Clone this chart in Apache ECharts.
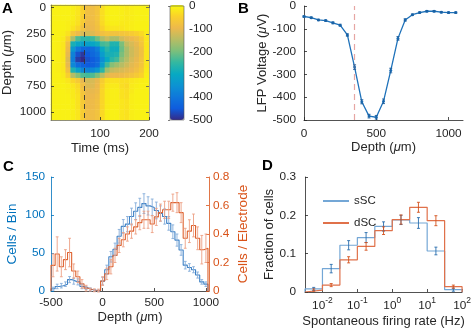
<!DOCTYPE html>
<html><head><meta charset="utf-8">
<script src="https://cdn.jsdelivr.net/npm/echarts@6/dist/echarts.min.js"></script>
<style>html,body{margin:0;padding:0;background:#fff}#c{width:474px;height:333px}</style>
</head><body><div id="c"></div>
<script>
// ---------- Panel A: LFP heatmap (time x depth) ----------
const timeCenters = [5,15,25,35,45,55,65,75,85,95,105,115,125,135,145,155,165,175,185,195];
const depthRows = [0,50,100,150,200,250,300,350,400,450,500,550,600,650,700,750,800,850,900,950,1000,1050];
const lfpGrid = [
 [-12,-12,-12,-12,-15,-25,-50,-85,-90,-75,-35,-15,-12,-12,-15,-20,-15,-12,-12,-12],
 [-12,-12,-12,-12,-15,-25,-50,-85,-90,-75,-35,-15,-12,-12,-15,-20,-15,-12,-12,-12],
 [-12,-12,-12,-12,-15,-28,-55,-90,-90,-75,-35,-15,-12,-12,-15,-20,-15,-12,-12,-12],
 [-12,-12,-12,-15,-20,-32,-62,-95,-95,-80,-40,-20,-15,-15,-20,-20,-15,-12,-12,-12],
 [-12,-12,-12,-15,-28,-45,-80,-105,-100,-85,-50,-30,-25,-25,-25,-20,-15,-12,-12,-12],
 [-12,-12,-15,-30,-75,-95,-120,-125,-115,-100,-85,-75,-80,-80,-75,-70,-62,-52,-40,-20],
 [-12,-12,-20,-55,-160,-230,-260,-260,-245,-210,-160,-135,-160,-160,-125,-110,-100,-88,-65,-25],
 [-12,-15,-25,-85,-280,-310,-320,-320,-310,-290,-240,-230,-270,-270,-200,-140,-120,-105,-75,-25],
 [-12,-15,-25,-95,-340,-400,-430,-430,-420,-390,-300,-260,-290,-290,-210,-160,-130,-112,-85,-25],
 [-12,-15,-25,-105,-380,-460,-485,-450,-430,-410,-330,-280,-280,-270,-200,-160,-130,-112,-85,-25],
 [-12,-15,-25,-115,-390,-480,-500,-460,-450,-430,-360,-300,-260,-240,-180,-150,-120,-105,-80,-25],
 [-12,-15,-25,-105,-370,-420,-440,-450,-440,-420,-330,-240,-190,-170,-150,-130,-110,-95,-75,-25],
 [-12,-15,-25,-85,-270,-320,-370,-380,-370,-340,-260,-170,-140,-130,-120,-110,-100,-85,-65,-20],
 [-12,-12,-20,-55,-150,-190,-230,-240,-230,-200,-150,-110,-100,-100,-95,-88,-78,-65,-50,-15],
 [-12,-12,-15,-25,-45,-65,-105,-125,-120,-105,-60,-35,-30,-30,-35,-35,-25,-20,-15,-12],
 [-12,-12,-12,-15,-25,-40,-85,-115,-115,-100,-50,-25,-20,-20,-35,-40,-20,-15,-12,-12],
 [-12,-12,-12,-15,-20,-35,-75,-105,-105,-95,-45,-20,-15,-15,-30,-35,-20,-12,-12,-12],
 [-12,-12,-12,-12,-20,-30,-70,-100,-100,-90,-45,-20,-15,-15,-30,-35,-15,-12,-12,-12],
 [-12,-12,-12,-12,-15,-30,-65,-95,-95,-85,-45,-20,-15,-15,-25,-30,-15,-12,-12,-12],
 [-12,-12,-12,-12,-15,-30,-65,-95,-95,-85,-45,-20,-15,-15,-25,-30,-15,-12,-12,-12],
 [-12,-12,-12,-12,-15,-25,-60,-90,-90,-80,-40,-15,-12,-12,-25,-30,-15,-12,-12,-12],
 [-12,-12,-12,-12,-15,-25,-60,-90,-90,-80,-40,-15,-12,-12,-25,-30,-15,-12,-12,-12]
];
const stimTimeA = 68;
const timeTicksA = [100, 200];
const depthTicksA = [0, 250, 500, 750, 1000];

// ---------- Panel B: LFP voltage vs depth ----------
const depthB = [0,50,100,150,200,250,300,350,400,450,500,550,600,650,700,750,800,850,900,950,1000,1050];
const lfpB = [-46,-51,-61,-64,-74,-84,-127,-268,-420,-483,-488,-418,-283,-142,-61,-38,-29,-23,-23,-27,-29,-29];
const lfpErrB = [3,3,3,3,4,4,5,10,9,8,8,10,10,8,5,3,3,3,3,3,3,3];
const stimDepthB = 345;
const depthTicksB = [0, 500, 1000];

// ---------- Panel C: cell density vs depth ----------
const depthEdgesC = [-500,-460,-420,-380,-340,-300,-260,-220,-180,-140,-100,-60,-20,20,60,100,140,180,220,260,300,340,380,420,460,500,540,580,620,660,700,740,780,820,860,900,940,980,1020];
const cellsPerBin = [3,6,7,9,15,13,12,6,4,2,1,0.5,13,28,45,55,72,85,88,98,105,110,115,112,110,106,102,98,89,78,67,54,34,31,28,21,12,9];
const cellsPerBinErr = [2,3,3,3,4,4,4,3,2,2,1,1,5,6,7,8,9,9,10,11,11,12,13,12,11,11,10,10,9,9,8,7,5,5,4,4,3,3];
const cellsPerElectrode = [0.18,0.26,0.17,0.22,0.27,0.14,0.10,0.05,0.02,0.01,0.005,0.003,0.07,0.12,0.17,0.25,0.32,0.36,0.40,0.42,0.45,0.48,0.50,0.50,0.47,0.52,0.55,0.57,0.57,0.62,0.62,0.55,0.37,0.42,0.46,0.37,0.29,0.30];
const cellsPerElectrodeErr = [0.08,0.12,0.07,0.07,0.1,0.05,0.04,0.03,0.02,0.01,0.01,0.01,0.03,0.04,0.05,0.05,0.05,0.05,0.05,0.05,0.05,0.05,0.06,0.06,0.06,0.06,0.06,0.06,0.06,0.06,0.07,0.07,0.07,0.08,0.08,0.08,0.1,0.1];
const depthTicksC = [-500, 0, 500, 1000];

// ---------- Panel D: firing-rate distribution ----------
const rateEdgesLog10 = [-2.5,-2,-1.5,-1,-0.5,0,0.5,1,1.5,2];
const fracSSC = [0.008,0.061,0.122,0.142,0.171,0.188,0.180,0.107,0.006];
const errSSC  = [0.004,0.011,0.012,0.013,0.012,0.012,0.014,0.010,0.004];
const fracDSC = [0.005,0.018,0.084,0.119,0.160,0.189,0.221,0.186,0.014];
const errDSC  = [0.003,0.004,0.008,0.010,0.010,0.012,0.013,0.013,0.004];
const rateTicksLog10 = [-2,-1,0,1,2];

// ---------- styling ----------
const FONT = '"Liberation Sans", Arial, Helvetica, sans-serif';
const INK = '#262626';
const BLUE = '#0072BD', RED = '#D95319';
const TF = 11.8, NF = 13;
const PARULA = ['#352A87','#0F5CDD','#0F77DB','#0C93D2','#07A9C2','#33B8A1','#7CBF7B','#B7BD64','#EDB94C','#FAD12B','#F9FB0E'];
const plain = (v) => String(Math.round(v * 1000) / 1000);

const tickStyle = (c) => ({ show: true, inside: true, length: 3, lineStyle: { color: c || INK, width: 0.8 } });
const lineStyleAx = (c, w) => ({ show: true, onZero: false, lineStyle: { color: c || INK, width: w || 0.8 } });
const lab = (c, m) => ({ fontSize: TF, color: c || INK, fontFamily: FONT, margin: m, formatter: plain });
const nameStyle = (c) => ({ fontSize: NF, color: c || INK, fontFamily: FONT,
  rich: { i: { fontStyle: 'italic', fontSize: NF, color: c || INK, fontFamily: FONT } } });

// heatmap data
const heatData = [];
lfpGrid.forEach((row, r) => row.forEach((v, c) => heatData.push([c, r, v])));

function stepData(edges, vals) {
  const d = [[edges[0], 0]];
  vals.forEach((v, i) => d.push([edges[i], v]));
  d.push([edges[edges.length - 1], 0]);
  return d;
}
function errData(xs, vals, errs) {
  return vals.map((v, i) => [xs[i], v - errs[i], v + errs[i]]);
}
const centersC = cellsPerBin.map((_, i) => (depthEdgesC[i] + depthEdgesC[i + 1]) / 2);
const centersD = fracSSC.map((_, i) => (rateEdgesLog10[i] + rateEdgesLog10[i + 1]) / 2);

function errRender(cap) {
  return function (params, api) {
    const x = api.value(0), lo = api.value(1), hi = api.value(2);
    const a = api.coord([x, lo]), b = api.coord([x, hi]);
    const st = { stroke: api.visual('color'), lineWidth: 0.9, fill: null };
    return { type: 'group', children: [
      { type: 'line', shape: { x1: a[0], y1: a[1], x2: b[0], y2: b[1] }, style: st },
      { type: 'line', shape: { x1: a[0] - cap, y1: a[1], x2: a[0] + cap, y2: a[1] }, style: st },
      { type: 'line', shape: { x1: b[0] - cap, y1: b[1], x2: b[0] + cap, y2: b[1] }, style: st }
    ] };
  };
}

const chart = echarts.init(document.getElementById('c'), null, { renderer: 'canvas' });
chart.setOption({
  animation: false,
  backgroundColor: '#fff',
  textStyle: { fontFamily: FONT },
  grid: [
    { left: 50, top: 5, width: 99, height: 115 },
    { left: 170, top: 5, width: 14, height: 115, show: true, backgroundColor: 'transparent', borderColor: '#555', borderWidth: 0.6, z: 5 },
    { left: 304, top: 5, width: 159, height: 115 },
    { left: 51, top: 177, width: 158, height: 114 },
    { left: 305, top: 177, width: 159, height: 115 }
  ],
  visualMap: {
    type: 'continuous', min: -500, max: 0, seriesIndex: 0, calculable: false,
    inRange: { color: PARULA }, left: 170, top: 5, itemWidth: 14, itemHeight: 115,
    padding: 0, orient: 'vertical', z: 2
  },
  legend: {
    data: ['sSC', 'dSC'], orient: 'vertical', left: 318, top: 190, itemWidth: 26, itemHeight: 2,
    itemGap: 10, icon: 'rect', textStyle: { fontSize: 11.5, color: INK, fontFamily: FONT }, selectedMode: false
  },
  xAxis: [
    { type: 'category', gridIndex: 0, data: timeCenters, show: false },
    { type: 'value', gridIndex: 0, min: 0, max: 200, position: 'bottom', z: 10,
      axisLine: lineStyleAx('#444', 0.6), axisTick: Object.assign(tickStyle(), { customValues: timeTicksA }),
      axisLabel: Object.assign(lab(INK, 8), { customValues: timeTicksA }), splitLine: { show: false },
      name: 'Time (ms)', nameLocation: 'middle', nameGap: 22, nameTextStyle: nameStyle() },
    { type: 'value', gridIndex: 0, min: 0, max: 200, position: 'top', z: 10,
      axisLine: lineStyleAx('#555', 0.5), axisTick: Object.assign(tickStyle('#555'), { customValues: timeTicksA }),
      axisLabel: { show: false }, splitLine: { show: false } },
    { type: 'value', gridIndex: 1, min: 0, max: 1, show: false },
    { type: 'value', gridIndex: 2, min: 0, max: 1100,
      axisLine: lineStyleAx(), axisTick: Object.assign(tickStyle(), { customValues: depthTicksB }),
      axisLabel: Object.assign(lab(INK, 8), { customValues: depthTicksB }), splitLine: { show: false },
      name: 'Depth ({i|μ}m)', nameLocation: 'middle', nameGap: 21, nameTextStyle: nameStyle() },
    { type: 'value', gridIndex: 3, min: -500, max: 1030,
      axisLine: lineStyleAx(), axisTick: Object.assign(tickStyle(), { customValues: depthTicksC }),
      axisLabel: Object.assign(lab(INK, 6), { customValues: depthTicksC }), splitLine: { show: false },
      name: 'Depth ({i|μ}m)', nameLocation: 'middle', nameGap: 20, nameTextStyle: nameStyle() },
    { type: 'value', gridIndex: 4, min: -2.5, max: 2,
      axisLine: lineStyleAx(), axisTick: Object.assign(tickStyle(), { customValues: rateTicksLog10 }),
      axisLabel: Object.assign(lab(INK, 4), { customValues: rateTicksLog10,
        formatter: (v) => '{b|10}{s|' + v + '}',
        rich: { b: { fontSize: TF, fontFamily: FONT, color: INK, verticalAlign: 'bottom' },
                s: { fontSize: 8.5, fontFamily: FONT, color: INK, verticalAlign: 'bottom', padding: [0, 0, 7, 0] } } }),
      splitLine: { show: false },
      name: 'Spontaneous firing rate (Hz)', nameLocation: 'middle', nameGap: 23, nameTextStyle: nameStyle() }
  ],
  yAxis: [
    { type: 'category', gridIndex: 0, data: depthRows, inverse: true, show: false },
    { type: 'value', gridIndex: 0, min: -25, max: 1075, inverse: true, position: 'left', z: 10,
      axisLine: lineStyleAx('#444', 0.6), axisTick: Object.assign(tickStyle(), { customValues: depthTicksA }),
      axisLabel: Object.assign(lab(INK, 5), { customValues: depthTicksA }), splitLine: { show: false },
      name: 'Depth ({i|μ}m)', nameLocation: 'middle', nameGap: 37, nameRotate: 90, nameTextStyle: nameStyle() },
    { type: 'value', gridIndex: 0, min: -25, max: 1075, inverse: true, position: 'right', z: 10,
      axisLine: lineStyleAx('#555', 0.5), axisTick: Object.assign(tickStyle('#555'), { customValues: depthTicksA }),
      axisLabel: { show: false }, splitLine: { show: false } },
    { type: 'value', gridIndex: 1, min: -500, max: 0, interval: 100, position: 'right', z: 10,
      axisLine: { show: false }, axisTick: { show: true, inside: true, length: 2, lineStyle: { color: INK, width: 0.6 } },
      axisLabel: lab(INK, 5), splitLine: { show: false } },
    { type: 'value', gridIndex: 2, min: -500, max: 0, interval: 100,
      axisLine: lineStyleAx(), axisTick: tickStyle(), axisLabel: lab(INK, 8), splitLine: { show: false },
      name: 'LFP Voltage ({i|μ}V)', nameLocation: 'middle', nameGap: 33, nameRotate: 90, nameTextStyle: nameStyle() },
    { type: 'value', gridIndex: 3, min: 0, max: 150, interval: 50, position: 'left',
      axisLine: lineStyleAx(BLUE), axisTick: tickStyle(BLUE), axisLabel: lab(BLUE, 6), splitLine: { show: false },
      name: 'Cells / Bin', nameLocation: 'middle', nameGap: 32, nameRotate: 90,
      nameTextStyle: Object.assign(nameStyle(BLUE), { fontSize: 13.5 }) },
    { type: 'value', gridIndex: 3, min: 0, max: 0.8, interval: 0.2, position: 'right',
      axisLine: lineStyleAx(RED), axisTick: tickStyle(RED), axisLabel: lab(RED, 4), splitLine: { show: false },
      name: 'Cells / Electrode', nameLocation: 'middle', nameGap: 27, nameRotate: 90,
      nameTextStyle: Object.assign(nameStyle(RED), { fontSize: 13.5 }) },
    { type: 'value', gridIndex: 4, min: 0, max: 0.3, interval: 0.1,
      axisLine: lineStyleAx(), axisTick: tickStyle(), axisLabel: lab(INK, 9), splitLine: { show: false },
      name: 'Fraction of cells', nameLocation: 'middle', nameGap: 29, nameRotate: 90, nameTextStyle: nameStyle() }
  ],
  series: [
    { type: 'heatmap', xAxisIndex: 0, yAxisIndex: 0, data: heatData, progressive: 0,
      itemStyle: { borderWidth: 0 }, emphasis: { disabled: true }, silent: true },
    { type: 'line', xAxisIndex: 1, yAxisIndex: 1, data: [], silent: true,
      markLine: { silent: true, symbol: 'none', label: { show: false },
        lineStyle: { color: '#333', type: [5, 4], width: 0.9 }, data: [{ xAxis: stimTimeA }] } },
    { type: 'line', xAxisIndex: 4, yAxisIndex: 4, data: depthB.map((d, i) => [d, lfpB[i]]),
      symbol: 'circle', symbolSize: 3, color: '#1F72BA', lineStyle: { width: 1.3 }, z: 4,
      markLine: { silent: true, symbol: 'none', label: { show: false },
        lineStyle: { color: '#E6A6A3', type: [6, 4], width: 1.2 }, data: [{ xAxis: stimDepthB }] } },
    { type: 'custom', xAxisIndex: 4, yAxisIndex: 4, data: errData(depthB, lfpB, lfpErrB),
      encode: { x: 0, y: [1, 2] }, renderItem: errRender(1.5), itemStyle: { color: '#1A5E9E' }, z: 5 },
    { type: 'line', name: 'cellsBin', xAxisIndex: 5, yAxisIndex: 5, data: stepData(depthEdgesC, cellsPerBin),
      step: 'end', symbol: 'none', color: '#3F82C6', lineStyle: { width: 1.1 }, z: 3 },
    { type: 'custom', xAxisIndex: 5, yAxisIndex: 5, data: errData(centersC, cellsPerBin, cellsPerBinErr),
      encode: { x: 0, y: [1, 2] }, renderItem: errRender(1.4), itemStyle: { color: '#86AEDA' }, z: 4 },
    { type: 'line', name: 'cellsElec', xAxisIndex: 5, yAxisIndex: 6, data: stepData(depthEdgesC, cellsPerElectrode),
      step: 'end', symbol: 'none', color: '#DE6330', lineStyle: { width: 1.1 }, z: 3 },
    { type: 'custom', xAxisIndex: 5, yAxisIndex: 6, data: errData(centersC, cellsPerElectrode, cellsPerElectrodeErr),
      encode: { x: 0, y: [1, 2] }, renderItem: errRender(1.4), itemStyle: { color: '#EDA085' }, z: 4 },
    { type: 'line', name: 'sSC', xAxisIndex: 6, yAxisIndex: 7, data: stepData(rateEdgesLog10, fracSSC),
      step: 'end', symbol: 'none', color: '#74A7D6', lineStyle: { width: 1.2 }, z: 3 },
    { type: 'custom', xAxisIndex: 6, yAxisIndex: 7, data: errData(centersD, fracSSC, errSSC),
      encode: { x: 0, y: [1, 2] }, renderItem: errRender(1.5), itemStyle: { color: '#2A6EAE' }, z: 4 },
    { type: 'line', name: 'dSC', xAxisIndex: 6, yAxisIndex: 7, data: stepData(rateEdgesLog10, fracDSC),
      step: 'end', symbol: 'none', color: '#E0714A', lineStyle: { width: 1.2 }, z: 3 },
    { type: 'custom', xAxisIndex: 6, yAxisIndex: 7, data: errData(centersD, fracDSC, errDSC),
      encode: { x: 0, y: [1, 2] }, renderItem: errRender(1.5), itemStyle: { color: '#D4521E' }, z: 4 }
  ],
  graphic: [
    { type: 'text', left: 2, top: 1, style: { text: 'A', font: 'bold 15px ' + FONT, fill: '#000' } },
    { type: 'text', left: 238, top: 1, style: { text: 'B', font: 'bold 15px ' + FONT, fill: '#000' } },
    { type: 'text', left: 3, top: 159, style: { text: 'C', font: 'bold 15px ' + FONT, fill: '#000' } },
    { type: 'text', left: 262, top: 158, style: { text: 'D', font: 'bold 15px ' + FONT, fill: '#000' } }
  ]
});
</script></body></html>
